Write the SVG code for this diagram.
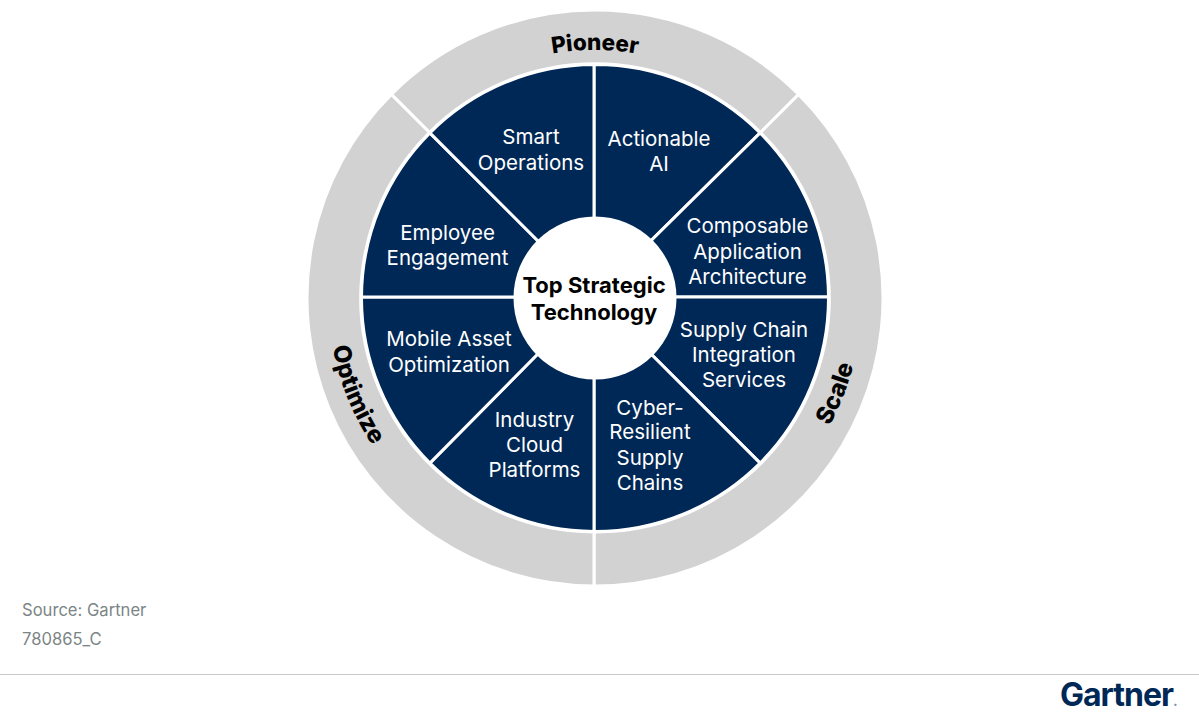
<svg xmlns="http://www.w3.org/2000/svg" width="1199" height="720" viewBox="0 0 1199 720">
<style>
.ring{fill:#d2d2d2;stroke:#fff;stroke-width:3}
.seg{fill:#002856;stroke:#fff;stroke-width:3}
.lbl{font-family:Inter,"Liberation Sans",sans-serif;font-size:20.5px;fill:#fff;text-anchor:middle}
.ctr{font-family:Inter,"Liberation Sans",sans-serif;font-size:22px;font-weight:700;fill:#000;text-anchor:middle}
.arc{font-family:Inter,"Liberation Sans",sans-serif;font-size:22.5px;font-weight:800;fill:#000;text-anchor:middle}
.arc2{font-family:Inter,"Liberation Sans",sans-serif;font-size:24px;font-weight:800;fill:#000;text-anchor:middle}
.src{font-family:Inter,"Liberation Sans",sans-serif;font-size:16.6px;fill:#7b8585}
</style>
<defs>
<path id="pScale" d="M595 565A267 267 0 0 0 862 298"/>
<path id="pOptimize" d="M328 298A267 267 0 0 0 595 565"/>
<path id="pTop" d="M347 298A248 248 0 0 1 843 298"/>
</defs>
<rect width="1199" height="720" fill="#fff"/>
<g id="ring-pioneer"><path class="ring" d="M391.35 94.35A288 288 0 0 1 798.65 94.35L760.54 132.46A234 234 0 0 0 429.46 132.46Z"/>
<text class="arc"><textPath href="#pTop" startOffset="50%">Pioneer</textPath></text></g>
<g id="ring-scale"><path class="ring" d="M798.65 94.35A288 288 0 0 1 594 586L594 532A234 234 0 0 0 760.54 132.46Z"/>
<text class="arc2"><textPath href="#pScale" startOffset="76%">Scale</textPath></text></g>
<g id="ring-optimize"><path class="ring" d="M594 586A288 288 0 0 1 391.35 94.35L429.46 132.46A234 234 0 0 0 594 532Z"/>
<text class="arc2"><textPath href="#pOptimize" startOffset="24.5%">Optimize</textPath></text></g>
<g id="seg-actionable-ai"><path class="seg" d="M594 297V64.5A233.5 233.5 0 0 1 760.11 132.89Z"/>
<text class="lbl"><tspan x="659" y="146">Actionable</tspan><tspan x="659" y="171">AI</tspan></text></g>
<g id="seg-composable"><path class="seg" d="M594 297L760.11 132.89A233.5 233.5 0 0 1 828.5 297Z"/>
<text class="lbl"><tspan x="747.5" y="233">Composable</tspan><tspan x="747.5" y="259">Application</tspan><tspan x="747.5" y="284">Architecture</tspan></text></g>
<g id="seg-supply-chain"><path class="seg" d="M594 297H828.5A233.5 233.5 0 0 1 760.11 463.11Z"/>
<text class="lbl"><tspan x="744" y="337">Supply Chain</tspan><tspan x="744" y="361.500">Integration</tspan><tspan x="744" y="386.500">Services</tspan></text></g>
<g id="seg-cyber"><path class="seg" d="M594 297L760.11 463.11A233.5 233.5 0 0 1 594 531.5Z"/>
<text class="lbl"><tspan x="650" y="415">Cyber-</tspan><tspan x="650" y="439">Resilient</tspan><tspan x="650" y="465">Supply</tspan><tspan x="650" y="490">Chains</tspan></text></g>
<g id="seg-industry"><path class="seg" d="M594 297V531.5A233.5 233.5 0 0 1 429.89 463.11Z"/>
<text class="lbl"><tspan x="534.500" y="426.500">Industry</tspan><tspan x="534.500" y="451.500">Cloud</tspan><tspan x="534.500" y="477">Platforms</tspan></text></g>
<g id="seg-mobile"><path class="seg" d="M594 297L429.89 463.11A233.5 233.5 0 0 1 361.5 297Z"/>
<text class="lbl"><tspan x="449" y="346">Mobile Asset</tspan><tspan x="449" y="371.500">Optimization</tspan></text></g>
<g id="seg-employee"><path class="seg" d="M594 297H361.5A233.5 233.5 0 0 1 429.89 132.89Z"/>
<text class="lbl"><tspan x="447.500" y="239.500">Employee</tspan><tspan x="447.500" y="265">Engagement</tspan></text></g>
<g id="seg-smart"><path class="seg" d="M594 297L429.89 132.89A233.5 233.5 0 0 1 594 64.5Z"/>
<text class="lbl"><tspan x="531" y="144">Smart</tspan><tspan x="531" y="169.500">Operations</tspan></text></g>
<g id="center"><circle cx="595" cy="298" r="81.5" fill="#fff"/>
<text class="ctr"><tspan x="594" y="293">Top Strategic</tspan><tspan x="594" y="319.500">Technology</tspan></text></g>
<g id="footer">
<text class="src" x="22" y="616">Source: Gartner</text>
<text class="src" x="22" y="645">780865_C</text>
<line x1="0" y1="674.5" x2="1199" y2="674.5" stroke="#c8c8c8" stroke-width="1"/>
<text x="1060" y="706" font-family="Inter,'Liberation Sans',sans-serif" font-size="32" font-weight="700" fill="#002856" letter-spacing="-1">Gartner<tspan fill="#7d8da8" font-size="14">.</tspan></text>
</g>
</svg>
